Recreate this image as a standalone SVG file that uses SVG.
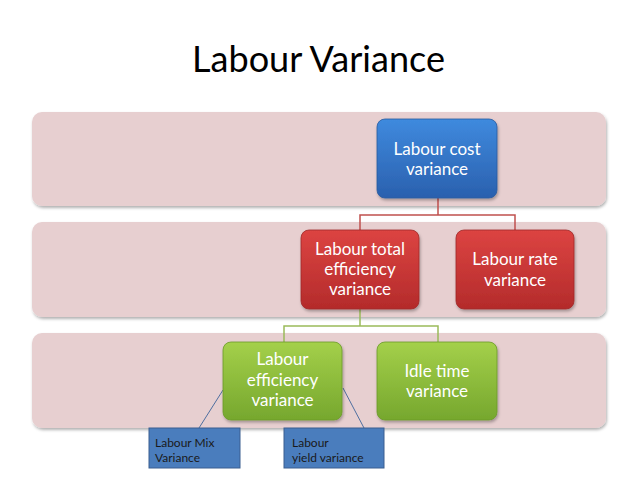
<svg xmlns="http://www.w3.org/2000/svg" width="638" height="479" viewBox="0 0 638 479">
<defs>
<linearGradient id="gBlue" x1="0" y1="0" x2="0" y2="1"><stop offset="0" stop-color="#3f8ade"/><stop offset="1" stop-color="#2a60ae"/></linearGradient>
<linearGradient id="gRed" x1="0" y1="0" x2="0" y2="1"><stop offset="0" stop-color="#dc4442"/><stop offset="1" stop-color="#b42b2b"/></linearGradient>
<linearGradient id="gGreen" x1="0" y1="0" x2="0" y2="1"><stop offset="0" stop-color="#a4d04a"/><stop offset="1" stop-color="#76a72e"/></linearGradient>
<filter id="sh" x="-10%" y="-10%" width="120%" height="130%"><feDropShadow dx="1" dy="2" stdDeviation="1.5" flood-color="#000" flood-opacity="0.3"/></filter>
</defs>
<style>
.band{fill:#e7cfd0;filter:url(#sh)}
.box{stroke-width:0.8;filter:url(#sh)}
.blue{fill:url(#gBlue);stroke:#2a5a9e}
.red{fill:url(#gRed);stroke:#9e2a2a}
.green{fill:url(#gGreen);stroke:#6a9a2a}
.t{font-family:"Lato","Liberation Sans",sans-serif;font-size:17px;fill:#ffffff;text-anchor:middle}
.s{font-family:"Lato","Liberation Sans",sans-serif;font-size:12px;fill:#1a1a1a}
.small{fill:#4a7dbd;stroke:#3a5f90;stroke-width:1}
.title{font-family:"Lato","Liberation Sans",sans-serif;font-size:36px;fill:#000000}
</style>
<rect width="638" height="479" fill="#ffffff"/>
<text class="title" x="192" y="72" textLength="253" lengthAdjust="spacingAndGlyphs">Labour Variance</text>
<g id="bands">
<rect class="band" x="32" y="112" width="574" height="94" rx="10"/>
<rect class="band" x="32" y="222" width="574" height="95" rx="10"/>
<rect class="band" x="32" y="333" width="574" height="95" rx="10"/>
</g>
<g id="connectors" fill="none">
<path d="M438 198 V215 H515 V230 M438 215 H360 V230" stroke="#c0504d" stroke-width="1.5"/>
<path d="M360 309 V326 H438 V342 M360 326 H284 V342" stroke="#9bbb59" stroke-width="1.5"/>
<path d="M199 428 L223 390 M343 388 L364 428" stroke="#4f6fa0" stroke-width="1"/>
</g>
<g id="cost"><rect class="box blue" x="377" y="119" width="120" height="79" rx="8"/><text class="t" x="437" y="155">Labour cost</text><text class="t" x="437" y="175">variance</text></g>
<g id="totaleff"><rect class="box red" x="301" y="230" width="118" height="79" rx="8"/><text class="t" x="360" y="255">Labour total</text><text class="t" x="360" y="275">efficiency</text><text class="t" x="360" y="295">variance</text></g>
<g id="rate"><rect class="box red" x="456" y="230" width="118" height="79" rx="8"/><text class="t" x="515" y="265">Labour rate</text><text class="t" x="515" y="286">variance</text></g>
<g id="eff"><rect class="box green" x="223" y="342" width="119" height="78" rx="8"/><text class="t" x="282.5" y="365">Labour</text><text class="t" x="282.5" y="386">efficiency</text><text class="t" x="282.5" y="406">variance</text></g>
<g id="idle"><rect class="box green" x="377" y="342" width="120" height="78" rx="8"/><text class="t" x="437" y="377">Idle time</text><text class="t" x="437" y="397">variance</text></g>
<g id="mix"><rect class="small" x="149" y="428" width="91" height="40"/><text class="s" x="155" y="447">Labour Mix</text><text class="s" x="155" y="462">Variance</text></g>
<g id="yield"><rect class="small" x="284" y="428" width="100" height="40"/><text class="s" x="292" y="447">Labour</text><text class="s" x="292" y="462">yield variance</text></g>
</svg>
